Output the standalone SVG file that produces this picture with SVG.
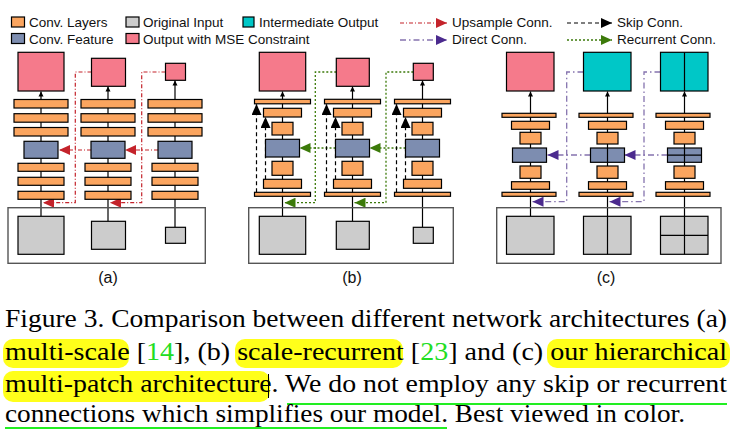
<svg xmlns="http://www.w3.org/2000/svg" width="733" height="436" viewBox="0 0 733 436">
<style>
.cl{fill:#FBA55F;stroke:#000;stroke-width:1.2}
.cf{fill:#7D8DB0;stroke:#000;stroke-width:1.2}
.oi{fill:#CCCCCC;stroke:#000;stroke-width:1.2}
.om{fill:#F57A8B;stroke:#000;stroke-width:1.2}
.io{fill:#00C7C7;stroke:#000;stroke-width:1.2}
.frame{fill:none;stroke:#555;stroke-width:1.4}
.col{stroke:#000;stroke-width:1.2;fill:none}
.up{stroke:#C4232B;stroke-width:1.2;fill:none;stroke-dasharray:4 2 1 2}
.rc{stroke:#3C7A0A;stroke-width:1.3;fill:none;stroke-dasharray:2 2}
.dc{stroke:#8573AE;stroke-width:1.3;fill:none;stroke-dasharray:6 3 1.5 3}
.sk{stroke:#000;stroke-width:1.2;fill:none;stroke-dasharray:4 3}
.lt{font-family:"Liberation Sans",Arial,sans-serif;font-size:13.5px;fill:#111}
.pl{font-family:"Liberation Sans",Arial,sans-serif;font-size:16px;fill:#111;text-anchor:middle}
.cap{font-family:"Liberation Serif","Times New Roman",serif;font-size:26px;fill:#000}
.hl{fill:#FFFF1A}
.ul{stroke:#22EE22;stroke-width:2}
</style>
<defs>
<marker id="ma" markerUnits="userSpaceOnUse" markerWidth="6" markerHeight="6" refX="5" refY="3" orient="auto"><path d="M0,0.5 L5,3 L0,5.5z" fill="#000"/></marker>
<marker id="mr" markerUnits="userSpaceOnUse" markerWidth="12" markerHeight="10" refX="11" refY="5" orient="auto"><path d="M0,0 L11,5 L0,10z" fill="#C4232B"/></marker>
<marker id="mg" markerUnits="userSpaceOnUse" markerWidth="12" markerHeight="10" refX="11" refY="5" orient="auto"><path d="M0,0 L11,5 L0,10z" fill="#3C7A0A"/></marker>
<marker id="mp" markerUnits="userSpaceOnUse" markerWidth="12" markerHeight="10" refX="11" refY="5" orient="auto"><path d="M0,0 L11,5 L0,10z" fill="#4B2A8E"/></marker>
<marker id="mk" markerUnits="userSpaceOnUse" markerWidth="12" markerHeight="10" refX="11" refY="5" orient="auto"><path d="M0,0 L11,5 L0,10z" fill="#000"/></marker>
</defs>

<g id="legend">
<rect class="cl" x="11.5" y="17" width="13" height="10"/><text class="lt" x="29" y="27">Conv. Layers</text>
<rect class="cf" x="11.5" y="33.5" width="13" height="10"/><text class="lt" x="29" y="43.5">Conv. Feature</text>
<rect class="oi" x="126" y="17" width="13" height="10"/><text class="lt" x="143" y="27">Original Input</text>
<rect class="om" x="126" y="33.5" width="13" height="10"/><text class="lt" x="143" y="43.5">Output with MSE Constraint</text>
<rect class="io" x="243" y="17" width="11" height="10"/><text class="lt" x="259" y="27">Intermediate Output</text>
<line class="up" x1="400" y1="23" x2="447" y2="23" marker-end="url(#mr)"/><text class="lt" x="452" y="27">Upsample Conn.</text>
<line class="dc" x1="400" y1="40" x2="447" y2="40" marker-end="url(#mp)"/><text class="lt" x="452" y="44">Direct Conn.</text>
<line class="sk" x1="567" y1="23" x2="612" y2="23" marker-end="url(#mk)"/><text class="lt" x="617" y="27">Skip Conn.</text>
<line class="rc" x1="567" y1="40" x2="612" y2="40" marker-end="url(#mg)"/><text class="lt" x="617" y="44">Recurrent Conn.</text>
</g>

<g id="connectors">
<!-- column lines -->
<line class="col" x1="41" y1="216" x2="41" y2="91.5" marker-end="url(#ma)"/>
<line class="col" x1="108" y1="221" x2="108" y2="86.5" marker-end="url(#ma)"/>
<line class="col" x1="175" y1="227" x2="175" y2="80.5" marker-end="url(#ma)"/>
<line class="col" x1="282.5" y1="216" x2="282.5" y2="91.5" marker-end="url(#ma)"/>
<line class="col" x1="352.5" y1="221" x2="352.5" y2="86.5" marker-end="url(#ma)"/>
<line class="col" x1="422.5" y1="227" x2="422.5" y2="80.5" marker-end="url(#ma)"/>
<line class="col" x1="530.5" y1="216" x2="530.5" y2="91.5" marker-end="url(#ma)"/>
<line class="col" x1="607.5" y1="216" x2="607.5" y2="91.5" marker-end="url(#ma)"/>
<line class="col" x1="684.5" y1="216" x2="684.5" y2="91.5" marker-end="url(#ma)"/>
<!-- (a) upsample -->
<path class="up" d="M91.5,72 H75.3 V202.7 H43" marker-end="url(#mr)"/>
<path class="up" d="M165.5,72 H141.7 V202.7 H110" marker-end="url(#mr)"/>
<path class="up" d="M91,150 H59" marker-end="url(#mr)"/>
<path class="up" d="M158,150 H125" marker-end="url(#mr)"/>
<!-- (b) recurrent -->
<path class="rc" d="M336.3,72 H315.3 V202.7 H284.5" marker-end="url(#mg)"/>
<path class="rc" d="M413.3,72 H386 V202.7 H354.5" marker-end="url(#mg)"/>
<path class="rc" d="M335.5,148 H299.5" marker-end="url(#mg)"/>
<path class="rc" d="M405.5,148 H369.5" marker-end="url(#mg)"/>
<!-- (b) skip -->
<path class="sk" d="M256.5,192.3 V104" marker-end="url(#mk)"/>
<path class="sk" d="M265.5,179.3 V117" marker-end="url(#mk)"/>
<path class="sk" d="M326.5,192.3 V104" marker-end="url(#mk)"/>
<path class="sk" d="M335.5,179.3 V117" marker-end="url(#mk)"/>
<path class="sk" d="M396.5,192.3 V104" marker-end="url(#mk)"/>
<path class="sk" d="M405.5,179.3 V117" marker-end="url(#mk)"/>
<!-- (c) direct -->
<path class="dc" d="M583.5,72 H566.7 V201.7 H532.5" marker-end="url(#mp)"/>
<path class="dc" d="M660.5,72 H644 V201.7 H609.5" marker-end="url(#mp)"/>
<path class="dc" d="M590.5,155 H547.5" marker-end="url(#mp)"/>
<path class="dc" d="M667.5,155 H624.5" marker-end="url(#mp)"/>
</g>

<g id="frames">
<rect class="frame" x="8" y="207.7" width="197.3" height="55.6"/>
<rect class="frame" x="248.7" y="207.7" width="204.6" height="55.6"/>
<rect class="frame" x="496.7" y="207.7" width="224.3" height="55.6"/>
</g>

<g id="a1">
<rect class="om" x="18" y="52.3" width="46" height="38.7"/>
<rect class="cl" x="14" y="99.5" width="54" height="8.5"/><rect class="cl" x="14" y="113.7" width="54" height="8.5"/><rect class="cl" x="14" y="127.5" width="54" height="8.5"/>
<rect class="cf" x="24" y="141.3" width="34" height="17"/>
<rect class="cl" x="18" y="163.3" width="46" height="8"/><rect class="cl" x="18" y="177.3" width="46" height="8"/><rect class="cl" x="18" y="191.3" width="46" height="8"/>
<rect class="oi" x="18" y="216.3" width="46" height="38"/>
</g>
<g id="a2">
<rect class="om" x="91.5" y="58.3" width="34" height="28"/>
<rect class="cl" x="81" y="99.5" width="54" height="8.5"/><rect class="cl" x="81" y="113.7" width="54" height="8.5"/><rect class="cl" x="81" y="127.5" width="54" height="8.5"/>
<rect class="cf" x="91" y="141.3" width="34" height="17"/>
<rect class="cl" x="85" y="163.3" width="46" height="8"/><rect class="cl" x="85" y="177.3" width="46" height="8"/><rect class="cl" x="85" y="191.3" width="46" height="8"/>
<rect class="oi" x="91.5" y="221.3" width="34" height="28"/>
</g>
<g id="a3">
<rect class="om" x="165.5" y="63.3" width="20" height="17"/>
<rect class="cl" x="148" y="99.5" width="54" height="8.5"/><rect class="cl" x="148" y="113.7" width="54" height="8.5"/><rect class="cl" x="148" y="127.5" width="54" height="8.5"/>
<rect class="cf" x="158" y="141.3" width="34" height="17"/>
<rect class="cl" x="152" y="163.3" width="46" height="8"/><rect class="cl" x="152" y="177.3" width="46" height="8"/><rect class="cl" x="152" y="191.3" width="46" height="8"/>
<rect class="oi" x="165.5" y="227.3" width="20" height="16"/>
</g>

<g id="b1">
<rect class="om" x="259.3" y="52.3" width="46.4" height="38.7"/>
<rect class="cl" x="254.5" y="99.3" width="56" height="4.5"/><rect class="cl" x="263.5" y="108.3" width="38" height="8.7"/><rect class="cl" x="272" y="122.3" width="21" height="12.7"/>
<rect class="cf" x="265.5" y="139.3" width="34" height="17.7"/>
<rect class="cl" x="272" y="161.3" width="21" height="14"/><rect class="cl" x="263.5" y="179.3" width="38" height="9"/><rect class="cl" x="254.5" y="192.3" width="56" height="4"/>
<rect class="oi" x="259.3" y="216.3" width="46.4" height="38"/>
</g>
<g id="b2">
<rect class="om" x="336.3" y="58.3" width="33" height="28"/>
<rect class="cl" x="324.5" y="99.3" width="56" height="4.5"/><rect class="cl" x="333.5" y="108.3" width="38" height="8.7"/><rect class="cl" x="342" y="122.3" width="21" height="12.7"/>
<rect class="cf" x="335.5" y="139.3" width="34" height="17.7"/>
<rect class="cl" x="342" y="161.3" width="21" height="14"/><rect class="cl" x="333.5" y="179.3" width="38" height="9"/><rect class="cl" x="324.5" y="192.3" width="56" height="4"/>
<rect class="oi" x="336.3" y="221.3" width="33" height="28"/>
</g>
<g id="b3">
<rect class="om" x="413.3" y="63.3" width="20" height="17"/>
<rect class="cl" x="394.5" y="99.3" width="56" height="4.5"/><rect class="cl" x="403.5" y="108.3" width="38" height="8.7"/><rect class="cl" x="412" y="122.3" width="21" height="12.7"/>
<rect class="cf" x="405.5" y="139.3" width="34" height="17.7"/>
<rect class="cl" x="412" y="161.3" width="21" height="14"/><rect class="cl" x="403.5" y="179.3" width="38" height="9"/><rect class="cl" x="394.5" y="192.3" width="56" height="4"/>
<rect class="oi" x="413.3" y="227.3" width="20" height="16"/>
</g>

<g id="c1">
<rect class="om" x="506.5" y="52.3" width="47.5" height="38.7"/>
<rect class="cl" x="502" y="113.3" width="54" height="4"/><rect class="cl" x="511.5" y="121.3" width="38" height="8"/><rect class="cl" x="520" y="132.3" width="21" height="11.7"/>
<rect class="cf" x="512.5" y="148" width="34" height="14.3"/>
<rect class="cl" x="520" y="166" width="21" height="12.3"/><rect class="cl" x="511.5" y="181.7" width="38" height="7.6"/><rect class="cl" x="502" y="192.3" width="54" height="4"/>
<rect class="oi" x="506.5" y="216.3" width="47.5" height="38"/>
</g>
<g id="c2">
<rect class="io" x="583.5" y="52.3" width="47.5" height="38.7"/>
<rect class="cl" x="579" y="113.3" width="54" height="4"/><rect class="cl" x="588.5" y="121.3" width="38" height="8"/><rect class="cl" x="597" y="132.3" width="21" height="11.7"/>
<rect class="cf" x="590.5" y="148" width="34" height="14.3"/><line class="col" x1="607.5" y1="148" x2="607.5" y2="162.3"/>
<rect class="cl" x="597" y="166" width="21" height="12.3"/><rect class="cl" x="588.5" y="181.7" width="38" height="7.6"/><rect class="cl" x="579" y="192.3" width="54" height="4"/>
<rect class="oi" x="583.5" y="216.3" width="47.5" height="38"/><line class="col" x1="607.5" y1="216.3" x2="607.5" y2="254.3"/>
</g>
<g id="c3">
<rect class="io" x="660.5" y="52.3" width="47.5" height="38.7"/><line class="col" x1="684.5" y1="52.3" x2="684.5" y2="91"/>
<rect class="cl" x="656" y="113.3" width="54" height="4"/><rect class="cl" x="665.5" y="121.3" width="38" height="8"/><rect class="cl" x="674" y="132.3" width="21" height="11.7"/>
<rect class="cf" x="667.5" y="148" width="34" height="14.3"/><line class="col" x1="684.5" y1="148" x2="684.5" y2="162.3"/><line class="col" x1="667.5" y1="155.2" x2="701.5" y2="155.2"/>
<rect class="cl" x="674" y="166" width="21" height="12.3"/><rect class="cl" x="665.5" y="181.7" width="38" height="7.6"/><rect class="cl" x="656" y="192.3" width="54" height="4"/>
<rect class="oi" x="660.5" y="216.3" width="47.5" height="38"/><line class="col" x1="684.5" y1="216.3" x2="684.5" y2="254.3"/><line class="col" x1="660.5" y1="235.3" x2="708" y2="235.3"/>
</g>

<g id="labels">
<text class="pl" x="108" y="283">(a)</text>
<text class="pl" x="352" y="283">(b)</text>
<text class="pl" x="606" y="283">(c)</text>
</g>

<g id="caption">
<rect class="hl" x="3" y="339" width="126" height="29" rx="10"/>
<rect class="hl" x="235" y="339" width="168" height="29" rx="10"/>
<rect class="hl" x="547" y="339" width="183" height="29" rx="10"/>
<rect class="hl" x="3" y="371" width="267" height="31" rx="10"/>
<line x1="268.5" y1="374" x2="268.5" y2="398" stroke="#000" stroke-width="1"/>
<line class="ul" x1="287" y1="404" x2="727" y2="404"/>
<line class="ul" x1="5" y1="428" x2="447" y2="428"/>
<text class="cap" x="5" y="327" textLength="722" lengthAdjust="spacingAndGlyphs">Figure 3. Comparison between different network architectures (a)</text>
<text class="cap" x="5" y="360" textLength="722" lengthAdjust="spacingAndGlyphs">multi-scale [<tspan fill="#22DD22">14</tspan>], (b) scale-recurrent [<tspan fill="#22DD22">23</tspan>] and (c) our hierarchical</text>
<text class="cap" x="5" y="392" textLength="722" lengthAdjust="spacingAndGlyphs">multi-patch architecture.  We do not employ any skip or recurrent</text>
<text class="cap" x="5" y="422" textLength="680" lengthAdjust="spacingAndGlyphs">connections which simplifies our model. Best viewed in color.</text>
</g>
</svg>
